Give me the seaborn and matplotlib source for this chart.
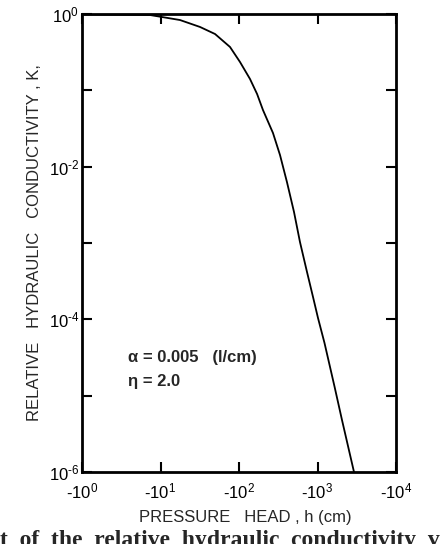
import numpy as np
import matplotlib
matplotlib.use("Agg")
import matplotlib.pyplot as plt
from matplotlib import font_manager
import pandas as pd
import seaborn as sns

sns.set_style("ticks")

# values
head = [1, 7.35, 17.7, 31.9, 49.5, 76.8, 103, 138, 170, 202, 271, 333, 408, 502, 598,
        735, 877, 1015, 1228, 1652, 2051, 2917]
k_rel = [0.985, 0.97, 0.834, 0.676, 0.547, 0.370, 0.235, 0.141, 0.0895, 0.0552, 0.0276,
         0.0142, 0.0063, 0.00255, 1.03e-3, 4.17e-4, 1.96e-4, 1.04e-4, 4.9e-5, 1.3e-5,
         4.8e-6, 1e-6]
x_ticks = [1, 10, 100, 1000, 10000]
x_labels = ['-$10^{0}$', '-$10^{1}$', '-$10^{2}$', '-$10^{3}$', '-$10^{4}$']
y_ticks = [1, 1e-1, 1e-2, 1e-3, 1e-4, 1e-5, 1e-6]
y_labels = ['$10^{0}$', '', r'$10^{\text{-}2}$', '', r'$10^{\text{-}4}$', '', r'$10^{\text{-}6}$']

names = {f.name for f in font_manager.fontManager.ttflist}
main_font = 'Liberation Sans Narrow' if 'Liberation Sans Narrow' in names else 'Liberation Sans'
plt.rcParams['font.family'] = [main_font, 'DejaVu Sans']
plt.rcParams['mathtext.fontset'] = 'custom'
plt.rcParams['mathtext.rm'] = main_font
plt.rcParams['mathtext.it'] = main_font
plt.rcParams['axes.unicode_minus'] = False

df = pd.DataFrame({'h': head, 'K': k_rel})

fig = plt.figure(figsize=(4.48, 5.44), dpi=100)
ax = fig.add_axes([82/448, 72/544, 314/448, 458/544])

sns.lineplot(data=df, x='h', y='K', ax=ax, color='black', linewidth=1.3)
ax.set_xscale('log')
ax.set_yscale('log')
ax.set_xlim(1, 1e4)
ax.set_ylim(1e-6, 1)

ax.set_xticks(x_ticks)
ax.set_xticklabels(x_labels)
ax.set_yticks(y_ticks)
ax.set_yticklabels(y_labels)
ax.minorticks_off()
ax.tick_params(direction='in', length=7, width=1.5, top=True, right=True,
               labelsize=12, color='black', labelcolor='black')
ax.tick_params(axis='x', pad=7)
ax.tick_params(axis='y', pad=2)

for s in ax.spines.values():
    s.set_linewidth(2.0)
    s.set_color('black')

ax.set_xlabel('PRESSURE   HEAD , h (cm)', fontsize=12)
ax.set_ylabel('RELATIVE   HYDRAULIC   CONDUCTIVITY , K,', fontsize=12)
ax.xaxis.set_label_coords(0.52, -0.084)
ax.yaxis.set_label_coords(-0.127, 0.5)

ax.text(0.147, 0.25, 'α = 0.005   (l/cm)', transform=ax.transAxes, fontsize=12,
        fontweight='bold', va='center', family=[main_font, 'DejaVu Sans'])
ax.text(0.147, 0.198, 'η = 2.0', transform=ax.transAxes, fontsize=12,
        fontweight='bold', va='center', family=[main_font, 'DejaVu Sans'])

# caption cut off by the bottom of the scan
fig.text(0.0, -0.003, 't  of  the  relative  hydraulic  conductivity  v', fontsize=17,
         fontweight='bold', family=['Liberation Serif', 'DejaVu Serif'], va='baseline')

fig.savefig('out.png', dpi=100)
